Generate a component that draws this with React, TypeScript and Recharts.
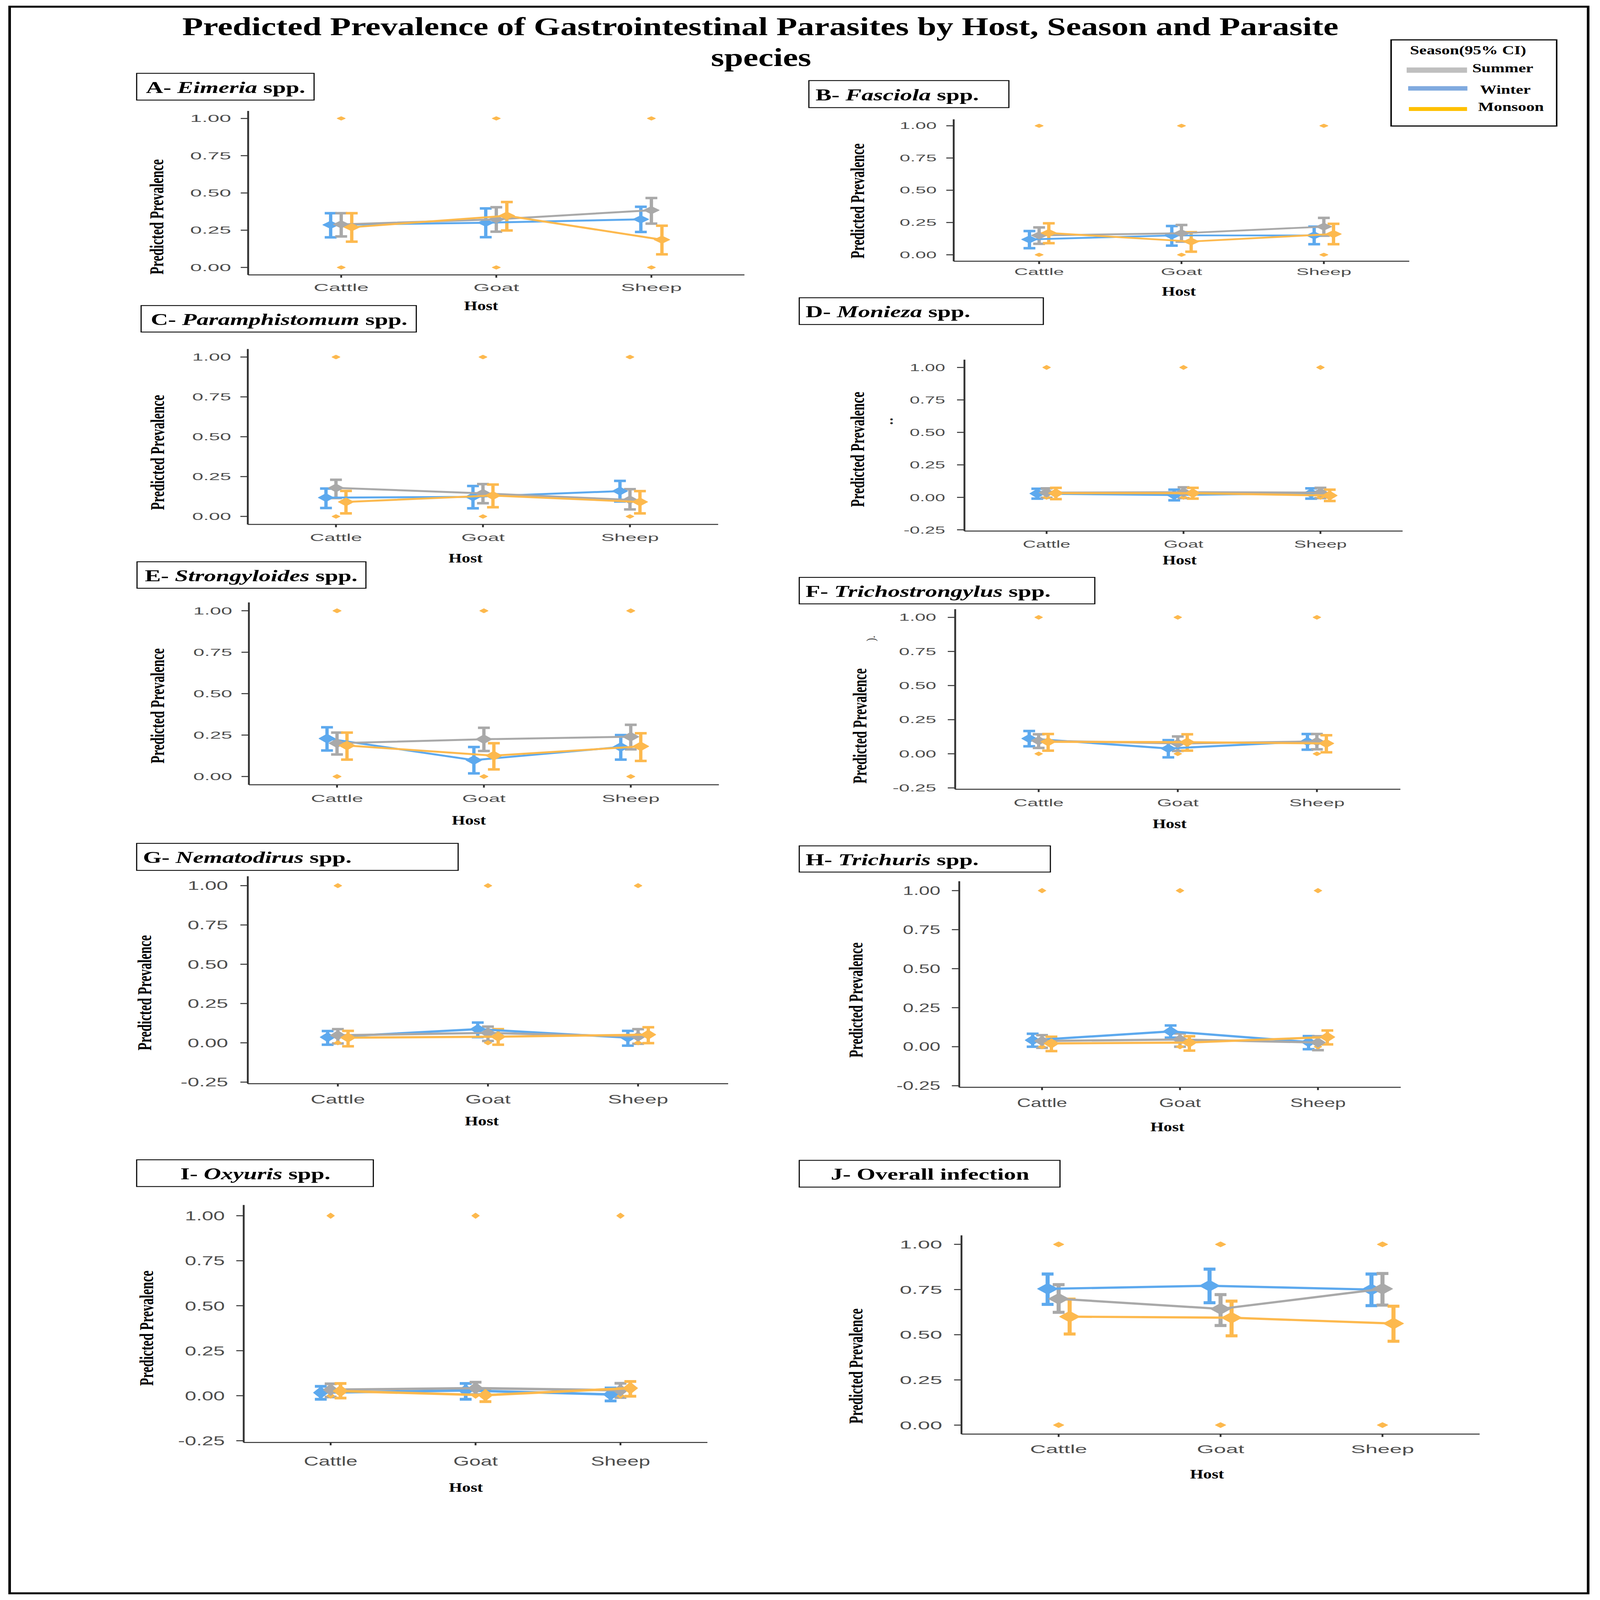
import React from 'react';
import { ScatterChart, Scatter, XAxis, YAxis, ErrorBar } from 'recharts';

// ---------- categories ----------
const hosts = ['Cattle', 'Goat', 'Sheep'];
const seasons = ['Winter', 'Summer', 'Monsoon'];
const legendOrder = ['Summer', 'Winter', 'Monsoon'];
const rawValues = [0, 1];
const ticksPos = [0, 0.25, 0.5, 0.75, 1];
const ticksNeg = [-0.25, 0, 0.25, 0.5, 0.75, 1];

// ---------- values: [estimate, lower 95% CI, upper 95% CI] for Cattle, Goat, Sheep ----------
const eimeriaWinter = [[0.286, 0.202, 0.364], [0.300, 0.203, 0.396], [0.323, 0.238, 0.407]];
const eimeriaSummer = [[0.289, 0.208, 0.364], [0.323, 0.240, 0.404], [0.384, 0.294, 0.466]];
const eimeriaMonsoon = [[0.270, 0.173, 0.364], [0.347, 0.248, 0.439], [0.186, 0.088, 0.280]];

const fasciolaWinter = [[0.119, 0.051, 0.184], [0.150, 0.071, 0.223], [0.150, 0.082, 0.218]];
const fasciolaSummer = [[0.150, 0.085, 0.212], [0.167, 0.102, 0.231], [0.218, 0.148, 0.286]];
const fasciolaMonsoon = [[0.169, 0.090, 0.244], [0.103, 0.024, 0.175], [0.161, 0.082, 0.240]];

const paramphWinter = [[0.118, 0.053, 0.175], [0.123, 0.051, 0.191], [0.159, 0.094, 0.223]];
const paramphSummer = [[0.179, 0.115, 0.230], [0.145, 0.083, 0.203], [0.104, 0.044, 0.171]];
const paramphMonsoon = [[0.091, 0.019, 0.160], [0.131, 0.058, 0.200], [0.091, 0.019, 0.159]];

const moniezaWinter = [[0.029, -0.010, 0.066], [0.018, -0.023, 0.059], [0.032, -0.010, 0.069]];
const moniezaSummer = [[0.036, -0.003, 0.069], [0.039, -0.006, 0.077], [0.036, -0.006, 0.073]];
const moniezaMonsoon = [[0.032, -0.014, 0.073], [0.032, -0.010, 0.073], [0.014, -0.028, 0.059]];

const strongWinter = [[0.229, 0.157, 0.297], [0.099, 0.019, 0.178], [0.178, 0.102, 0.250]];
const strongSummer = [[0.201, 0.133, 0.265], [0.225, 0.154, 0.294], [0.240, 0.164, 0.312]];
const strongMonsoon = [[0.187, 0.102, 0.265], [0.126, 0.043, 0.201], [0.182, 0.094, 0.261]];

const trichoWinter = [[0.112, 0.055, 0.167], [0.039, -0.026, 0.100], [0.090, 0.030, 0.145]];
const trichoSummer = [[0.096, 0.043, 0.143], [0.076, 0.021, 0.127], [0.090, 0.033, 0.145]];
const trichoMonsoon = [[0.088, 0.023, 0.145], [0.085, 0.023, 0.143], [0.076, 0.011, 0.136]];

const nematoWinter = [[0.036, -0.012, 0.075], [0.087, 0.036, 0.129], [0.033, -0.018, 0.076]];
const nematoSummer = [[0.048, -0.004, 0.087], [0.063, 0.012, 0.103], [0.040, -0.006, 0.087]];
const nematoMonsoon = [[0.033, -0.022, 0.076], [0.039, -0.012, 0.087], [0.052, -0.002, 0.099]];

const trichurisWinter = [[0.042, 0.000, 0.083], [0.098, 0.058, 0.136], [0.030, -0.016, 0.068]];
const trichurisSummer = [[0.037, -0.007, 0.074], [0.046, 0.000, 0.085], [0.027, -0.022, 0.067]];
const trichurisMonsoon = [[0.021, -0.028, 0.064], [0.027, -0.025, 0.067], [0.062, 0.015, 0.104]];

const oxyurisWinter = [[0.017, -0.020, 0.052], [0.029, -0.020, 0.068], [0.007, -0.029, 0.043]];
const oxyurisSummer = [[0.033, -0.007, 0.066], [0.042, 0.007, 0.075], [0.030, -0.010, 0.069]];
const oxyurisMonsoon = [[0.026, -0.013, 0.068], [0.003, -0.033, 0.039], [0.042, -0.003, 0.079]];

const overallWinter = [[0.754, 0.668, 0.836], [0.771, 0.677, 0.863], [0.750, 0.661, 0.836]];
const overallSummer = [[0.699, 0.624, 0.777], [0.643, 0.551, 0.722], [0.754, 0.664, 0.839]];
const overallMonsoon = [[0.600, 0.504, 0.697], [0.594, 0.494, 0.686], [0.562, 0.464, 0.658]];

// ---------- styles ----------
const seasonColors: Record<string, string> = { Summer: '#A9A9A9', Winter: '#5DA9EE', Monsoon: '#FDB94E' };
const legendColors: Record<string, string> = { Summer: '#BFBFBF', Winter: '#80AADF', Monsoon: '#FFC000' };
const dodge: Record<string, number> = { Winter: -0.068, Summer: 0, Monsoon: 0.068 };
const SERIF = '"Liberation Serif", "Times New Roman", serif';
const SANS = '"Liberation Sans", Arial, sans-serif';
const FIG_W = 4320;
const FIG_H = 5739;

type PanelCfg = {
  prefix: string; name: string; suffix: string; italic: boolean;
  values: Record<string, number[][]>;
  box: number[]; textX: number;
  axisX: number; right: number; top: number; bottom: number; neg: boolean;
  tickFs: number; tickK: number; yGap: number; xOff: number;
  yLab: number[]; host: number[]; mW: number; mH: number; lineW: number; errW: number;
};

const panels: PanelCfg[] = [
  { prefix: 'A- ', name: 'Eimeria', suffix: ' spp.', italic: true,
    values: { Winter: eimeriaWinter, Summer: eimeriaSummer, Monsoon: eimeriaMonsoon },
    box: [369, 263, 848, 359], textX: 394, axisX: 670, right: 2010, top: 398, bottom: 986, neg: false,
    tickFs: 36, tickK: 1.58, yGap: 46, xOff: 45, yLab: [423, 778], host: [1299, 1097], mW: 41, mH: 26, lineW: 7, errW: 9 },
  { prefix: 'B- ', name: 'Fasciola', suffix: ' spp.', italic: true,
    values: { Winter: fasciolaWinter, Summer: fasciolaSummer, Monsoon: fasciolaMonsoon },
    box: [2184, 289, 2724, 386], textX: 2202, axisX: 2575, right: 3805, top: 428, bottom: 937, neg: false,
    tickFs: 33, tickK: 1.56, yGap: 46, xOff: 38, yLab: [2316, 721], host: [3183, 1045], mW: 41, mH: 25, lineW: 6.5, errW: 9 },
  { prefix: 'C- ', name: 'Paramphistomum', suffix: ' spp.', italic: true,
    values: { Winter: paramphWinter, Summer: paramphSummer, Monsoon: paramphMonsoon },
    box: [381, 1096, 1124, 1191], textX: 407, axisX: 669, right: 1939, top: 1252, bottom: 1881, neg: false,
    tickFs: 36, tickK: 1.5, yGap: 45, xOff: 47, yLab: [426, 1623], host: [1257, 2002], mW: 40, mH: 28, lineW: 7, errW: 9 },
  { prefix: 'D- ', name: 'Monieza', suffix: ' spp.', italic: true,
    values: { Winter: moniezaWinter, Summer: moniezaSummer, Monsoon: moniezaMonsoon },
    box: [2158, 1068, 2817, 1164], textX: 2175, axisX: 2604, right: 3787, top: 1290, bottom: 1905, neg: true,
    tickFs: 37, tickK: 1.33, yGap: 52, xOff: 46, yLab: [2315, 1612], host: [3185, 2010], mW: 39, mH: 31, lineW: 7.5, errW: 9 },
  { prefix: 'E- ', name: 'Strongyloides', suffix: ' spp.', italic: true,
    values: { Winter: strongWinter, Summer: strongSummer, Monsoon: strongMonsoon },
    box: [370, 2015, 988, 2110], textX: 391, axisX: 672, right: 1941, top: 2161, bottom: 2815, neg: false,
    tickFs: 37, tickK: 1.46, yGap: 45, xOff: 48, yLab: [426, 2532], host: [1266, 2943], mW: 42, mH: 31, lineW: 7, errW: 9 },
  { prefix: 'F- ', name: 'Trichostrongylus', suffix: ' spp.', italic: true,
    values: { Winter: trichoWinter, Summer: trichoSummer, Monsoon: trichoMonsoon },
    box: [2158, 2071, 2956, 2166], textX: 2175, axisX: 2579, right: 3781, top: 2185, bottom: 2831, neg: true,
    tickFs: 35, tickK: 1.48, yGap: 51, xOff: 48, yLab: [2322, 2604], host: [3158, 2956], mW: 39, mH: 29, lineW: 7.5, errW: 9 },
  { prefix: 'G- ', name: 'Nematodirus', suffix: ' spp.', italic: true,
    values: { Winter: nematoWinter, Summer: nematoSummer, Monsoon: nematoMonsoon },
    box: [369, 3025, 1237, 3122], textX: 386, axisX: 669, right: 1966, top: 3143, bottom: 3887, neg: true,
    tickFs: 44, tickK: 1.28, yGap: 53, xOff: 55, yLab: [391, 3561], host: [1301, 4021], mW: 39, mH: 32, lineW: 8, errW: 9 },
  { prefix: 'H- ', name: 'Trichuris', suffix: ' spp.', italic: true,
    values: { Winter: trichurisWinter, Summer: trichurisSummer, Monsoon: trichurisMonsoon },
    box: [2158, 3034, 2836, 3128], textX: 2175, axisX: 2590, right: 3782, top: 3161, bottom: 3900, neg: true,
    tickFs: 43, tickK: 1.21, yGap: 51, xOff: 55, yLab: [2311, 3587], host: [3152, 4043], mW: 39, mH: 33, lineW: 8, errW: 9 },
  { prefix: 'I- ', name: 'Oxyuris', suffix: ' spp.', italic: true,
    values: { Winter: oxyurisWinter, Summer: oxyurisSummer, Monsoon: oxyurisMonsoon },
    box: [369, 4160, 1008, 4256], textX: 487, axisX: 658, right: 1910, top: 4322, bottom: 5174, neg: true,
    tickFs: 47, tickK: 1.18, yGap: 51, xOff: 66, yLab: [396, 4764], host: [1258, 5336], mW: 38, mH: 40, lineW: 9, errW: 10 },
  { prefix: 'J- Overall infection', name: '', suffix: '', italic: false,
    values: { Winter: overallWinter, Summer: overallSummer, Monsoon: overallMonsoon },
    box: [2158, 4162, 2862, 4258], textX: 2243, axisX: 2596, right: 3995, top: 4431, bottom: 5144, neg: false,
    tickFs: 41, tickK: 1.44, yGap: 52, xOff: 54, yLab: [2311, 4900], host: [3259, 5288], mW: 53, mH: 38, lineW: 8, errW: 11 },
];

const diamond = (w: number, h: number, fill: string) => (props: any) => {
  const { cx, cy } = props;
  if (cx == null || cy == null) return <g />;
  const pts = `${cx},${cy - h / 2} ${cx + w / 2},${cy} ${cx},${cy + h / 2} ${cx - w / 2},${cy}`;
  return <polygon points={pts} fill={fill} stroke={fill} strokeWidth={3} strokeLinejoin="round" />;
};

function Panel({ cfg }: { cfg: PanelCfg }) {
  const YW = 200;
  const MT = 20;
  const MR = 20;
  const XH = 150;
  const W = YW + (cfg.right - cfg.axisX) + MR;
  const H = MT + (cfg.bottom - cfg.top) + XH;
  const domain = cfg.neg ? [-0.26, 1.06] : [-0.05, 1.05];
  const ticks = cfg.neg ? ticksNeg : ticksPos;
  const rawData = hosts.flatMap((h, i) => rawValues.map((v) => ({ x: i + 1, y: v })));

  const xTick = (props: any) => {
    const { x, y, payload } = props;
    const label = hosts[Math.round(payload.value) - 1];
    return (
      <g transform={`translate(${x},${y})`}>
        <text transform={`scale(${cfg.tickK},1)`} textAnchor="middle" dy="0.355em"
          fontSize={cfg.tickFs} fontFamily={SANS} fill="#4D4D4D">{label}</text>
      </g>
    );
  };
  const yTick = (props: any) => {
    const { x, y, payload } = props;
    return (
      <g transform={`translate(${x},${y})`}>
        <text transform={`scale(${cfg.tickK},1)`} textAnchor="end" dy="0.355em"
          fontSize={cfg.tickFs} fontFamily={SANS} fill="#4D4D4D">{Number(payload.value).toFixed(2)}</text>
      </g>
    );
  };

  return (
    <div style={{ position: 'absolute', left: cfg.axisX - YW, top: cfg.top - MT, width: W, height: H }}>
      <ScatterChart width={W} height={H} margin={{ top: MT, right: MR, bottom: 0, left: 0 }}>
        <XAxis type="number" dataKey="x" domain={[0.4, 3.6]} ticks={[1, 2, 3]} allowDataOverflow interval={0}
          height={XH} tickSize={10} tickMargin={cfg.xOff - 10}
          axisLine={{ stroke: '#333333', strokeWidth: 3.5 }} tickLine={{ stroke: '#333333', strokeWidth: 5 }} tick={xTick} />
        <YAxis type="number" dataKey="y" domain={domain} ticks={ticks} allowDataOverflow interval={0}
          width={YW} tickSize={20} tickMargin={cfg.yGap - 20}
          axisLine={{ stroke: '#333333', strokeWidth: 5 }} tickLine={{ stroke: '#333333', strokeWidth: 3.5 }} tick={yTick} />
        <Scatter data={rawData} shape={diamond(cfg.mW * 0.5, cfg.mH * 0.45, seasonColors.Monsoon)} isAnimationActive={false} />
        {seasons.map((s) => {
          const rows = cfg.values[s].map((r, i) => ({ x: i + 1 + dodge[s], y: r[0], err: [r[0] - r[1], r[2] - r[0]] }));
          return (
            <Scatter key={s} name={s} data={rows} line={{ stroke: seasonColors[s], strokeWidth: cfg.lineW }} lineType="joint"
              shape={diamond(cfg.mW, cfg.mH, seasonColors[s])} isAnimationActive={false}>
              <ErrorBar dataKey="err" direction="y" width={16} strokeWidth={cfg.errW} stroke={seasonColors[s]} />
            </Scatter>
          );
        })}
      </ScatterChart>
    </div>
  );
}

function Overlay() {
  return (
    <svg width={FIG_W} height={FIG_H} style={{ position: 'absolute', left: 0, top: 0 }}>
      <rect x={26} y={24} width={4262} height={5691} fill="none" stroke="#000" strokeWidth={7} />
      <text x={2053} y={126} textAnchor="middle" fontSize={92} fontWeight="bold" fontFamily={SERIF} fill="#000">
        Predicted Prevalence of Gastrointestinal Parasites by Host, Season and Parasite
      </text>
      <text x={2055} y={237} textAnchor="middle" fontSize={92} fontWeight="bold" fontFamily={SERIF} fill="#000">species</text>

      {/* legend */}
      <rect x={3756} y={143} width={447} height={309} fill="#fff" stroke="#000" strokeWidth={4} />
      <text x={3807} y={195} fontSize={45} fontWeight="bold" fontFamily={SERIF} fill="#000">Season(95% CI)</text>
      {legendOrder.map((s, i) => {
        const sw = [[3798, 242, 163, 19, 3975, 259], [3802, 309, 160, 16, 3996, 336], [3804, 384, 157, 14, 3991, 398]][i];
        return (
          <g key={s}>
            <rect x={sw[0]} y={sw[1]} width={sw[2]} height={sw[3]} fill={legendColors[s]} />
            <text x={sw[4]} y={sw[5]} fontSize={45} fontWeight="bold" fontFamily={SERIF} fill="#000">{s}</text>
          </g>
        );
      })}

      {panels.map((p, i) => {
        const [x1, y1, x2, y2] = p.box;
        const base = (y1 + y2) / 2 + 22;
        return (
          <g key={i}>
            <rect x={x1} y={y1} width={x2 - x1} height={y2 - y1} fill="#fff" stroke="#000" strokeWidth={3} />
            <text transform={`translate(${p.textX},${base}) scale(1.08,1)`} fontSize={60} fontWeight="bold" fontFamily={SERIF} fill="#000">
              <tspan>{p.prefix}</tspan>
              {p.name ? <tspan fontStyle="italic">{p.name}</tspan> : null}
              {p.suffix ? <tspan>{p.suffix}</tspan> : null}
            </text>
            <text transform={`translate(${p.yLab[0]},${p.yLab[1]}) rotate(-90) scale(1,1.15)`} textAnchor="middle" dy="0.33em"
              fontSize={46} fontWeight="bold" fontFamily={SERIF} fill="#000">Predicted Prevalence</text>
            <text x={p.host[0]} y={p.host[1] + 15} textAnchor="middle" fontSize={46} fontWeight="bold" fontFamily={SERIF} fill="#000">Host</text>
          </g>
        );
      })}
      {/* small stray marks present in the original figure */}
      <text x={2400} y={1522} fontSize={44} fontWeight="bold" fontFamily={SERIF} fill="#333">:</text>
      <text transform="translate(2362,2300) rotate(-90)" fontSize={34} fontFamily={SERIF} fill="#333">).</text>
    </svg>
  );
}

export default function App() {
  const vw = typeof window !== 'undefined' && window.innerWidth ? window.innerWidth : FIG_W;
  const vh = typeof window !== 'undefined' && window.innerHeight ? window.innerHeight : FIG_H;
  const sx = Math.min(1, vw / FIG_W);
  const sy = Math.min(1, vh / FIG_H);
  return (
    <div style={{ position: 'absolute', left: 0, top: 0, width: FIG_W * sx, height: FIG_H * sy, overflow: 'hidden', background: '#fff' }}>
      <div style={{ position: 'absolute', left: 0, top: 0, width: FIG_W, height: FIG_H, background: '#fff',
        transform: `scale(${sx},${sy})`, transformOrigin: '0 0' }}>
        <Overlay />
        {panels.map((p, i) => <Panel key={i} cfg={p} />)}
      </div>
    </div>
  );
}
